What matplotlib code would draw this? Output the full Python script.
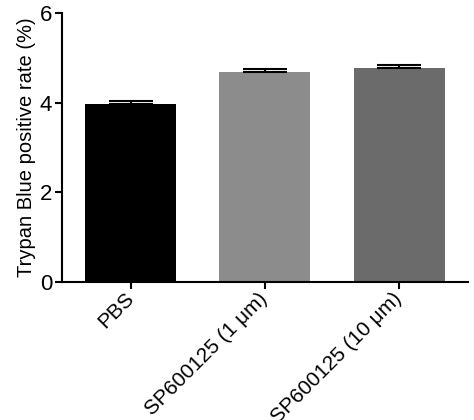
import matplotlib
matplotlib.use("Agg")
import matplotlib.pyplot as plt

groups = ["PBS", "SP600125 (1 μm)", "SP600125 (10 μm)"]
rates = [3.98, 4.69, 4.77]
errs = [0.05, 0.07, 0.07]
colors = ["#000000", "#8c8c8c", "#6b6b6b"]

plt.rcParams["font.family"] = ["Liberation Sans", "DejaVu Sans"]

fig = plt.figure(figsize=(4.74, 4.2), dpi=100)
ax = fig.add_axes([0.131, 0.329, 0.856, 0.64])

x = range(len(groups))
ax.bar(x, rates, width=0.677, color=colors, zorder=2)
ax.errorbar(x, rates, yerr=[[0] * len(errs), errs], fmt="none", ecolor="black",
            elinewidth=1.5, capsize=16, capthick=1.5, zorder=3)

ax.set_ylim(0, 6)
ax.set_xlim(-0.51, 2.51)
ax.set_yticks([0, 2, 4, 6])
ax.set_xticks(list(x))
ax.set_xticklabels(groups, rotation=45, ha="right", va="center",
                   rotation_mode="anchor", fontsize=15)
ax.set_ylabel("Trypan Blue positive rate (%)", fontsize=14.5, labelpad=3)

for side in ("top", "right"):
    ax.spines[side].set_visible(False)
for side in ("left", "bottom"):
    ax.spines[side].set_linewidth(1.5)
ax.tick_params(axis="both", width=1.5, length=5)
ax.tick_params(axis="x", pad=5)
ax.tick_params(axis="y", labelsize=16, pad=2)

fig.savefig("out.png", dpi=100)
